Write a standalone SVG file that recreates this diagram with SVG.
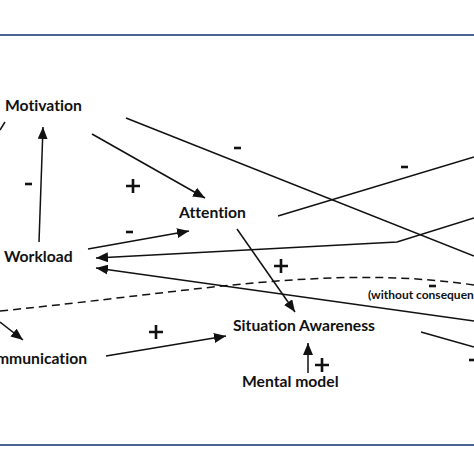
<svg xmlns="http://www.w3.org/2000/svg" width="474" height="474" viewBox="0 0 474 474">
<style>
.lbl{font-family:Lato,"Open Sans","Liberation Sans",sans-serif;font-weight:bold;font-size:15.7px;fill:#111;font-variant-ligatures:none;font-feature-settings:"liga" 0,"clig" 0}
.sm{font-family:Lato,"Open Sans","Liberation Sans",sans-serif;font-weight:bold;font-size:12px;fill:#111;font-variant-ligatures:none;font-feature-settings:"liga" 0,"clig" 0}
.ln{stroke:#111;stroke-width:1.5;fill:none}
.sign{stroke:#111;stroke-width:2.6;fill:none}
.rule{stroke:#4a6590;stroke-width:2.2}
</style>
<defs>
<marker id="ah" viewBox="0 0 12 10" refX="12" refY="5" markerWidth="12" markerHeight="10" markerUnits="userSpaceOnUse" orient="auto">
<path d="M0,0 L12,5 L0,10 Z" fill="#111"/>
</marker>
</defs>
<rect width="474" height="474" fill="#fff"/>
<line class="rule" x1="0" y1="35" x2="474" y2="35"/>
<line class="rule" x1="0" y1="445" x2="474" y2="445"/>

<g id="motivation"><text class="lbl" x="5" y="111">Motivation</text></g>
<g id="attention"><text class="lbl" x="179" y="218">Attention</text></g>
<g id="workload"><text class="lbl" x="4" y="262">Workload</text></g>
<g id="communication"><text class="lbl" x="87" y="364" text-anchor="end">Communication</text></g>
<g id="situation-awareness"><text class="lbl" x="233" y="331">Situation Awareness</text></g>
<g id="mental-model"><text class="lbl" x="242" y="387">Mental model</text></g>
<g id="without"><text class="sm" x="368" y="299">(without consequences)</text></g>

<g id="connectors">
<line class="ln" x1="0" y1="130" x2="5" y2="122"/>
<line class="ln" x1="39" y1="242" x2="43" y2="127" marker-end="url(#ah)"/>
<line class="ln" x1="92" y1="134" x2="205" y2="198" marker-end="url(#ah)"/>
<line class="ln" x1="126" y1="118" x2="474" y2="256"/>
<line class="ln" x1="278" y1="216" x2="474" y2="157"/>
<polyline class="ln" points="474,218 397,242 96,258" marker-end="url(#ah)"/>
<line class="ln" x1="474" y1="321" x2="96" y2="268" marker-end="url(#ah)"/>
<path class="ln" d="M0,311 C200,291 330,264 474,285" stroke-dasharray="8,5"/>
<line class="ln" x1="0" y1="322" x2="23" y2="340" marker-end="url(#ah)"/>
<line class="ln" x1="88" y1="249" x2="189" y2="231" marker-end="url(#ah)"/>
<line class="ln" x1="237" y1="229" x2="295" y2="312" marker-end="url(#ah)"/>
<line class="ln" x1="106" y1="356" x2="226" y2="336" marker-end="url(#ah)"/>
<line class="ln" x1="308" y1="373" x2="308" y2="343" marker-end="url(#ah)"/>
<line class="ln" x1="421" y1="332" x2="474" y2="347"/>
</g>

<g id="signs">
<path class="sign" d="M25,184 H32"/>
<path class="sign" d="M126,186 H140 M133,179 V193"/>
<path class="sign" d="M234,148 H241"/>
<path class="sign" d="M401,167 H408"/>
<path class="sign" d="M126,232 H133"/>
<path class="sign" d="M274,266 H288 M281,259 V273"/>
<path class="sign" d="M149,332 H163 M156,325 V339"/>
<path class="sign" d="M315,365 H329 M322,358 V372"/>
<path class="sign" d="M429,286 H436"/>
<path class="sign" d="M469,360 H476"/>
</g>
</svg>
